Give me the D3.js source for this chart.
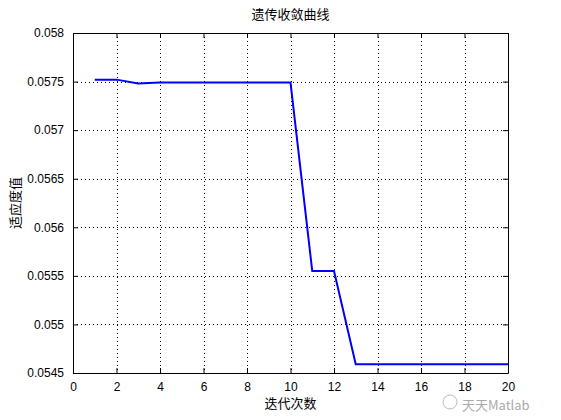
<!DOCTYPE html>
<html>
<head>
<meta charset="utf-8">
<script src="https://cdn.jsdelivr.net/npm/d3@7"></script>
<style>
  body { margin: 0; background: #fff; }
  text { font-family: "Liberation Sans", Arial, sans-serif; }
  .cjk { font-family: "Noto Sans CJK SC", sans-serif; }
</style>
</head>
<body>
<div id="chart"></div>
<script>
// data
var iterations = [1, 2, 3, 4, 5, 6, 7, 8, 9, 10, 11, 12, 13, 14, 15, 16, 17, 18, 19, 20];
var fitness = [0.05752, 0.05752, 0.05748, 0.05749, 0.05749, 0.05749, 0.05749, 0.05749, 0.05749, 0.05749,
               0.05555, 0.05555, 0.05459, 0.05459, 0.05459, 0.05459, 0.05459, 0.05459, 0.05459, 0.05459];
var xTicks = [0, 2, 4, 6, 8, 10, 12, 14, 16, 18, 20];
var yTicks = [0.0545, 0.055, 0.0555, 0.056, 0.0565, 0.057, 0.0575, 0.058];

var svgWidth = 561, svgHeight = 420;
var margin = {top: 33, right: 53, bottom: 47, left: 73};
var width = svgWidth - margin.left - margin.right;
var height = svgHeight - margin.top - margin.bottom;

var svg = d3.select("#chart").append("svg").attr("width", svgWidth).attr("height", svgHeight);
var chartGroup = svg.append("g").attr("transform", `translate(${margin.left}, ${margin.top})`);

var x = d3.scaleLinear().domain([0, 20]).range([0, width]);
var y = d3.scaleLinear().domain([0.0545, 0.058]).range([height, 0]);

// dotted grid
chartGroup.selectAll(".gx").data(xTicks.slice(1, -1)).enter().append("line")
  .attr("x1", d => Math.round(x(d)) + 0.5).attr("x2", d => Math.round(x(d)) + 0.5)
  .attr("y1", 0).attr("y2", height)
  .attr("stroke", "#000").attr("stroke-dasharray", "1,3");
chartGroup.selectAll(".gy").data(yTicks.slice(1, -1)).enter().append("line")
  .attr("y1", d => Math.round(y(d)) + 0.5).attr("y2", d => Math.round(y(d)) + 0.5)
  .attr("x1", 0).attr("x2", width)
  .attr("stroke", "#000").attr("stroke-dasharray", "1,3");

// axes, ticks inward like matlab
var bottomAxis = d3.axisBottom(x).tickValues(xTicks).tickSizeInner(-5).tickSizeOuter(0).tickPadding(9);
var leftAxis = d3.axisLeft(y).tickValues(yTicks).tickSizeInner(-5).tickSizeOuter(0).tickPadding(9)
  .tickFormat(d => String(+d.toFixed(4)));
var topAxis = d3.axisTop(x).tickValues(xTicks).tickSizeInner(-5).tickSizeOuter(0).tickFormat("");
var rightAxis = d3.axisRight(y).tickValues(yTicks).tickSizeInner(-5).tickSizeOuter(0).tickFormat("");

chartGroup.append("g").attr("transform", `translate(0, ${height})`).call(bottomAxis);
chartGroup.append("g").call(leftAxis);
chartGroup.append("g").call(topAxis);
chartGroup.append("g").attr("transform", `translate(${width}, 0)`).call(rightAxis);
chartGroup.selectAll(".domain").attr("stroke", "#000");
chartGroup.selectAll(".tick line").attr("stroke", "#000");
chartGroup.selectAll(".tick text").attr("font-size", 12).attr("fill", "#000")
  .attr("font-family", "Liberation Sans, Arial, sans-serif");

// line
var line = d3.line().x((d, i) => x(iterations[i])).y(d => y(d));
chartGroup.append("path").datum(fitness)
  .attr("d", line).attr("fill", "none").attr("stroke", "#0000ff").attr("stroke-width", 2);

// labels
svg.append("text").attr("class", "cjk").attr("x", margin.left + width / 2).attr("y", 19)
  .attr("text-anchor", "middle").attr("font-size", 13).text("遗传收敛曲线");
svg.append("text").attr("class", "cjk").attr("x", margin.left + width / 2).attr("y", 408)
  .attr("text-anchor", "middle").attr("font-size", 13).text("迭代次数");
svg.append("text").attr("class", "cjk")
  .attr("transform", `translate(20, ${margin.top + height / 2}) rotate(-90)`)
  .attr("text-anchor", "middle").attr("font-size", 13).text("适应度值");

// watermark, nudged below the tick labels
svg.append("circle").attr("cx", 450).attr("cy", 402).attr("r", 7)
  .attr("fill", "none").attr("stroke", "#bbb").attr("stroke-width", 1);
svg.append("text").attr("class", "cjk").attr("x", 462).attr("y", 410)
  .attr("font-size", 13).attr("fill", "#aaa").text("天天Matlab");
</script>
</body>
</html>
